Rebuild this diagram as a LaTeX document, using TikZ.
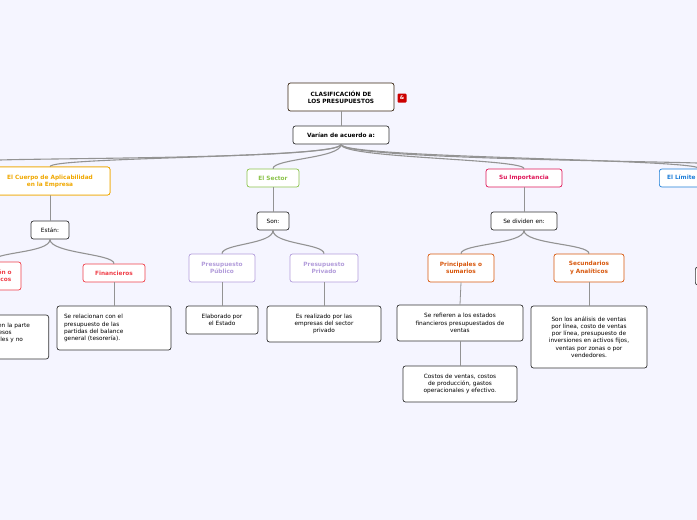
\documentclass[tikz,border=0pt]{standalone}
\usepackage{fontspec}
\setmainfont{DejaVu Sans}
\begin{document}
\begin{tikzpicture}[x=1pt,y=-1pt,
 box/.style={draw=#1,rounded corners=2.5pt,fill=white,line width=0.7pt,align=center,font=\fontsize{5.8}{7.2}\selectfont,inner sep=2pt},
 box/.default=black!80,
 topic/.style={box=#1,text=#1,font=\bfseries\fontsize{5.8}{7.2}\selectfont,fill=white},
 link/.style={draw=gray!85,line width=1.1pt},
 thin/.style={draw=gray!85,line width=0.8pt}]
\useasboundingbox (0,0) rectangle (697,520);
\fill[blue!4] (0,0) rectangle (697,520);
\definecolor{cyel}{HTML}{F0A800}\definecolor{cred}{HTML}{F0404A}\definecolor{cgrn}{HTML}{8BC34A}
\definecolor{cpur}{HTML}{B39DDB}\definecolor{cpink}{HTML}{E0185A}\definecolor{corg}{HTML}{D8580E}\definecolor{cblu}{HTML}{1E7FD8}
\node[box=black!70!brown,minimum width=106pt,minimum height=28pt,font=\bfseries\fontsize{5.8}{7.2}\selectfont] (t) at (341,97) {CLASIFICACIÓN DE\\LOS PRESUPUESTOS};
\node[fill=red!80!black,rounded corners=1pt,minimum size=9pt,inner sep=0pt,text=white,font=\bfseries\fontsize{5}{5}\selectfont] (ic) at (402,98) {\&};
\node[box,minimum width=96pt,minimum height=18pt,font=\bfseries\fontsize{5.8}{7.2}\selectfont] (v) at (341,135) {Varían de acuerdo a:};
\node[topic=cyel,minimum width=120pt,minimum height=28pt] (c) at (50,181) {El Cuerpo de Aplicabilidad\\en la Empresa};
\node[box,minimum width=38pt,minimum height=18pt] (e) at (50,230) {Están:};
\node[topic=cred,minimum width=58pt,minimum height=28pt] (op) at (-8,276) {Operación o\\Económicos};
\node[topic=cred,minimum width=62pt,minimum height=18pt] (f) at (114,273) {Financieros};
\node[box,minimum width=116pt,minimum height=44pt,anchor=east] (opt) at (49,337) {};
\node[font=\fontsize{5.8}{7.2}\selectfont,text width=84pt,align=left,inner sep=0pt] (optt) at (10,333) {Comprenden la parte\\de los ingresos\\operacionales y no};
\node[box,minimum width=114pt,minimum height=44pt,text width=100pt,align=left] (ft) at (114,328) {Se relacionan con el\\presupuesto de las\\partidas del balance\\general (tesorería).};
\node[topic=cgrn,minimum width=52pt,minimum height=18pt] (s) at (273,178) {El Sector};
\node[box,minimum width=32pt,minimum height=18pt] (so) at (273,221) {Son:};
\node[topic=cpur,minimum width=66pt,minimum height=28pt] (pu) at (222,268) {Presupuesto\\Público};
\node[topic=cpur,minimum width=68pt,minimum height=28pt] (pr) at (324,268) {Presupuesto\\Privado};
\node[box,minimum width=72pt,minimum height=28pt] (el) at (222,320) {Elaborado por\\el Estado};
\node[box,minimum width=114pt,minimum height=36pt] (re) at (324,324) {Es realizado por las\\empresas del sector\\privado};
\node[topic=cpink,minimum width=76pt,minimum height=18pt] (i) at (524,178) {Su Importancia};
\node[box,minimum width=66pt,minimum height=18pt] (sd) at (524,221) {Se dividen en:};
\node[topic=corg,minimum width=66pt,minimum height=28pt] (p) at (461,268) {Principales o\\sumarios};
\node[topic=corg,minimum width=70pt,minimum height=28pt] (se) at (589,268) {Secundarios\\y Analíticos};
\node[box,minimum width=126pt,minimum height=36pt] (sr) at (460,323) {Se refieren a los estados\\financieros presupuestados de\\ventas};
\node[box,minimum width=114pt,minimum height=36pt] (co) at (460,384) {Costos de ventas, costos\\de producción, gastos\\operacionales y efectivo.};
\node[box,minimum width=116pt,minimum height=62pt] (sl) at (589,337) {Son los análisis de ventas\\por línea, costo de ventas\\por línea, presupuesto de\\inversiones en activos fijos,\\ventas por zonas o por\\vendedores.};
\node[topic=cblu,minimum width=80pt,minimum height=18pt,anchor=west] (l) at (659,178) {El Límite de Tiempo};
\node[box,minimum width=20pt,minimum height=18pt,anchor=west] (lx) at (695,276) {};
\draw[thin] (t.south)--(v.north);
\foreach \n in {c,s,i,l}{\draw[link] (v.south) .. controls +(0,14) and +(0,-10) .. (\n.north);}
\draw[link] (v.south) .. controls +(0,14) and +(-60,-2) .. (697,163);
\draw[link] (v.south) .. controls +(0,14) and +(60,-2) .. (0,160);
\draw[thin] (c.south)--(e.north);
\foreach \n in {op,f}{\draw[link] (e.south) .. controls +(0,14) and +(0,-10) .. (\n.north);}
\draw[thin] (f.south)--(ft.north);
\draw[thin] (s.south)--(so.north);
\foreach \n in {pu,pr}{\draw[link] (so.south) .. controls +(0,14) and +(0,-10) .. (\n.north);}
\draw[thin] (pu.south)--(el.north);\draw[thin] (pr.south)--(re.north);
\draw[thin] (i.south)--(sd.north);
\foreach \n in {p,se}{\draw[link] (sd.south) .. controls +(0,14) and +(0,-10) .. (\n.north);}
\draw[thin] (p.south)--(sr.north);\draw[thin] (sr.south)--(co.north);\draw[thin] (se.south)--(sl.north);
\node[topic=cyel,minimum width=120pt,minimum height=28pt] at (50,181) {El Cuerpo de Aplicabilidad\\en la Empresa};
\end{tikzpicture}
\end{document}
